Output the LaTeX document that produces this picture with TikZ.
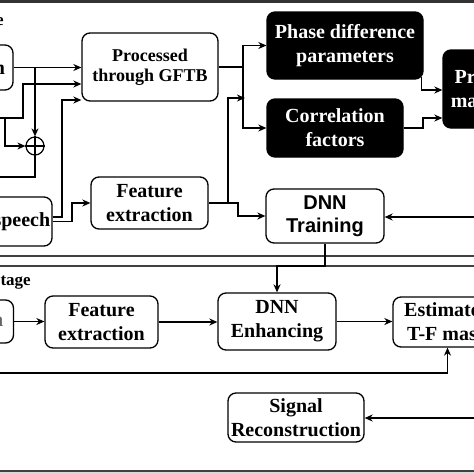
\documentclass[tikz,border=0pt]{standalone}
\usepackage{fontspec}
\setmainfont{Liberation Serif}
\newfontfamily\sansb{Liberation Sans}
\usetikzlibrary{arrows.meta,calc}
\begin{document}
\begin{tikzpicture}[x=1pt,y=-1pt,
  box/.style={draw=black, line width=1.3pt, rounded corners=8pt, align=center, inner sep=0pt, font=\fontsize{20}{24}\selectfont\bfseries},
  dbox/.style={box, fill=black, text=white},
  arr/.style={-{Stealth[length=8pt,width=7pt,inset=2.5pt]}, line width=1.2pt},
  ln/.style={line width=1.2pt},
  lab/.style={font=\fontsize{17}{17}\selectfont\bfseries, inner sep=0pt, anchor=base east},
  ]
\useasboundingbox (0,0) rectangle (474,474);
\clip (0,0) rectangle (474,474);

% frame lines
\fill[black!80] (0,0) rectangle (474,3);
\draw[black!75, line width=1.5pt] (-5,256) -- (480,256) (-5,266) -- (480,266);
\fill[black!15] (0,471) rectangle (474,474);
\draw[black!75, line width=1.5pt] (-5,471) -- (480,471);

% labels
\node[lab] (lab1) at (4,25) {Training stage};
\node[lab] (lab2) at (31,285) {Testing stage};

% training nodes
\node[box, minimum width=66pt, minimum height=45pt] (clean) at (-20,67.5) {Clean};
\node[box, minimum width=113pt, minimum height=49pt] (noisy) at (-4.5,221.5) {Noisy speech};
\node[box, minimum width=136pt, minimum height=68pt, font=\fontsize{18}{20.5}\selectfont\bfseries] (gftb) at (150,67) {Processed\\through GFTB};
\node[dbox, minimum width=156pt, minimum height=67pt] (phase) at (345,45.5) {Phase difference\\parameters};
\node[dbox, minimum width=136pt, minimum height=58pt] (corr) at (335,128) {Correlation\\factors};
\node[dbox, minimum width=69pt, minimum height=78pt] (pm) at (477.5,89) {Prior\\masks};
\node[box, minimum width=117pt, minimum height=52pt] (fe1) at (149.5,203) {Feature\\extraction};
\node[box, minimum width=118pt, minimum height=54pt, font=\fontsize{20}{23}\selectfont\sansb\bfseries] (dnnt) at (325,216) {DNN\\Training};
\node[draw, circle, line width=1.2pt, minimum size=18pt, inner sep=0pt] (sum) at (35,146) {};
\draw[ln] (sum.north) -- (sum.south) (sum.west) -- (sum.east);

% testing nodes
\node[box, minimum width=130pt, minimum height=43pt, text=black!60] (testin) at (-51.5,321.5) {Noisy speech};
\node[box, minimum width=113pt, minimum height=52pt] (fe2) at (101.5,322) {Feature\\extraction};
\node[box, minimum width=118pt, minimum height=57pt] (dnne) at (277,321.5) {DNN\\Enhancing};
\node[box, minimum width=109pt, minimum height=50pt] (est) at (447.5,322) {Estimated\\T-F mask};
\node[box, minimum width=136pt, minimum height=49pt] (sig) at (296,417.5) {Signal\\Reconstruction};

% free ends
\coordinate (inA) at (-5,118);
\coordinate (outS) at (-5,177);
\coordinate (inR) at (480,217);
\coordinate (inB) at (-5,373);
\coordinate (inS) at (480,418);

% connectors (training)
\draw[arr] (clean.east) -- (clean.east -| gftb.west);
\draw[arr] (sum.north |- clean.east) -- (sum.north);
\draw[arr] (inA) -- (23,118) -- (23,84) -- (gftb.west |- 0,84);
\draw[arr] (5,118) |- (sum.west);
\draw[ln] (sum.south) |- (outS);
\draw[arr] ($(noisy.east)+(0,-4.5)$) -| (62,100) -- (gftb.west |- 0,100);
\draw[arr] (noisy.east) -- (72,221.5) |- (fe1.west);
\draw[ln] (gftb.east) -- (243,67);
\draw[arr] (243,67) |- (phase.west);
\draw[arr] (243,67) |- (corr.west);
\draw[arr] (fe1.east) -- (228,203) -- (228,98) -- (245,98);
\draw[arr] (228,203) -- (238,203) |- (dnnt.west);
\draw[arr] ($(phase.south east)+(-2,-3)$) |- (pm.west |- 0,90);
\draw[arr] (corr.east) -- (423,128) |- (pm.west |- 0,118);
\draw[arr] (inR) -- (dnnt.east |- inR);
\draw[arr] (dnnt.south) -- (dnnt.south |- 0,266) -| (dnne.north);

% connectors (testing)
\draw[arr] (testin.east) -- (testin.east -| fe2.west);
\draw[arr] (fe2.east) -- (fe2.east -| dnne.west);
\draw[arr] (dnne.east) -- (dnne.east -| est.west);
\draw[arr] (inB) -| (est.south);
\draw[arr] (inS) -- (inS -| sig.east);
\end{tikzpicture}
\end{document}
